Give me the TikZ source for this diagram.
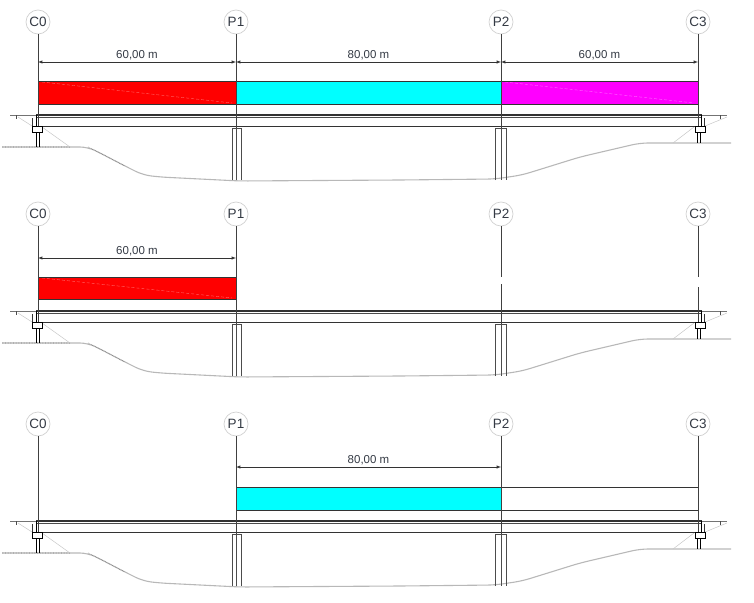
\documentclass[tikz,border=0pt]{standalone}
\usepackage{fontspec}
\setmainfont{Liberation Sans}
\usepackage{xcolor}
\usetikzlibrary{arrows,positioning}
\definecolor{labelgrey}{RGB}{52,58,68}
\definecolor{spanred}{RGB}{255,0,0}
\definecolor{spancyan}{RGB}{0,255,255}
\definecolor{spanmagenta}{RGB}{255,0,255}
\tikzset{
  axisnode/.style={circle,draw=black!18,line width=0.7pt,fill=white,minimum size=24pt,inner sep=0pt,text=labelgrey,font=\fontsize{13.5}{14}\selectfont},
  axisline/.style={black!75,line width=0.8pt},
  dimline/.style={black!80,line width=0.5pt,latex-latex,>=latex},
  dimlabel/.style={midway,above,text=labelgrey,inner sep=1.5pt,font=\fontsize{11.5}{12}\selectfont},
  spanbox/.style={draw=black!80,line width=0.8pt},
  spandash/.style={white,densely dashed,line width=0.4pt,opacity=0.4},
  deckline/.style={black!80,line width=0.9pt},
  ground/.style={black!28,line width=1.1pt,rounded corners=8pt},
  slope/.style={black!22,line width=0.5pt}
}
\begin{document}
\begin{tikzpicture}[x=1pt,y=-1pt]

\useasboundingbox (0,0) rectangle (754,602);

% bridge, repeated three times
\foreach \view/\dy in {a/0,b/196,c/406}{
\begin{scope}[yshift=-\dy pt]
\draw[ground] (2,147) -- (88,147) -- (100,153) -- (125,166) -- (143,175) -- (160,177) -- (240,181) -- (400,180) -- (495,179) -- (522,175) -- (580,157) -- (640,143) -- (731,143);
\draw[black!55,densely dotted,line width=0.6pt] (2,147) -- (70,147) (88,147) -- (100,153) -- (125,166);
\draw[slope] (42,127) -- (70,147);
\draw[slope] (694,127) -- (673,143);
\draw[slope] (18,117) -- (32,126);
\draw[slope] (727,117) -- (705,126);

% deck
\draw[deckline,line width=1.1pt] (36,115) -- (702,115);
\draw[black!70,line width=0.6pt] (36,117) -- (702,117);
\draw[deckline] (42,126) -- (695,126);
\draw[black!55,line width=0.8pt] (10,115) -- (36,115);
\draw[black!55,line width=0.8pt] (702,115) -- (727,115);
\draw[black!70,line width=0.5pt] (16,115) -- (16,119);
\draw[black!70,line width=0.5pt] (720,115) -- (720,119);

% piers
\foreach \xa/\xb/\xc in {232/236/241,495/501/506}{
\draw[black!70,line width=0.7pt] (\xa,180) -- (\xa,128) -- (\xc,128) -- (\xc,180);
\draw[black!70,line width=0.5pt] (\xb,128) -- (\xb,180);
}

% abutments
\draw[black!80,line width=0.6pt] (32,118) -- (32,126);
\draw[black,line width=0.9pt] (36,115) -- (36,126);
\draw[black,line width=0.9pt] (32,126) rectangle (42,132);
\draw[black,line width=1pt] (36,132) -- (36,147) (39,132) -- (39,147);
\draw[black!80,line width=0.6pt] (704,118) -- (704,126);
\draw[black,line width=0.9pt] (701,115) -- (701,126);
\draw[black,line width=0.9pt] (695,126) rectangle (705,132);
\draw[black,line width=1pt] (697,132) -- (697,143) (700,132) -- (700,143);
\end{scope}
}

% top view
\node[axisnode] (C0a) at (38,22) {C0};
\node[axisnode] (P1a) at (236,22) {P1};
\node[axisnode] (P2a) at (501,22) {P2};
\node[axisnode] (C3a) at (698,22) {C3};
\coordinate (C0aend) at (38,126);
\coordinate (P1aend) at (236,128);
\coordinate (P2aend) at (501,128);
\coordinate (C3aend) at (698,126);

\fill[spanred] (38,81) rectangle (236,104);
\fill[spancyan] (236,81) rectangle (501,104);
\fill[spanmagenta] (501,81) rectangle (698,104);
\draw[spandash] (42,82) -- (232,103);
\draw[spandash] (505,82) -- (694,103);
\draw[spanbox] (38,81) rectangle (698,104);

\foreach \from in {C0a,P1a,P2a,C3a}{
\draw[axisline] (\from) -- (\from end);
}

\coordinate (C0adim) at (38,62);
\coordinate (P1adim) at (236,62);
\coordinate (P2adim) at (501,62);
\coordinate (C3adim) at (698,62);
\draw[dimline] (C0adim) -- (P1adim) node[dimlabel] {60,00 m};
\draw[dimline] (P1adim) -- (P2adim) node[dimlabel] {80,00 m};
\draw[dimline] (P2adim) -- (C3adim) node[dimlabel] {60,00 m};

% middle view
\node[axisnode] (C0b) at (38,214) {C0};
\node[axisnode] (P1b) at (236,214) {P1};
\node[axisnode] (P2b) at (501,214) {P2};
\node[axisnode] (C3b) at (698,214) {C3};
\coordinate (C0bend) at (38,322);
\coordinate (P1bend) at (236,324);
\coordinate (P2bgap) at (501,277);
\coordinate (P2bnext) at (501,284);
\coordinate (P2bend) at (501,324);
\coordinate (C3bgap) at (698,277);
\coordinate (C3bnext) at (698,287);
\coordinate (C3bend) at (698,322);

\fill[spanred] (38,277) rectangle (236,299);
\draw[spandash] (42,278) -- (232,298);
\draw[spanbox] (38,277) rectangle (236,299);

\draw[axisline] (C0b) -- (C0bend);
\draw[axisline] (P1b) -- (P1bend);
\draw[axisline] (P2b) -- (P2bgap);
\draw[axisline] (P2bnext) -- (P2bend);
\draw[axisline] (C3b) -- (C3bgap);
\draw[axisline] (C3bnext) -- (C3bend);

\coordinate (C0bdim) at (38,258);
\coordinate (P1bdim) at (236,258);
\draw[dimline] (C0bdim) -- (P1bdim) node[dimlabel] {60,00 m};

% bottom view
\node[axisnode] (C0c) at (38,424) {C0};
\node[axisnode] (P1c) at (236,424) {P1};
\node[axisnode] (P2c) at (501,424) {P2};
\node[axisnode] (C3c) at (698,424) {C3};
\coordinate (C0cend) at (38,532);
\coordinate (P1cend) at (236,534);
\coordinate (P2cend) at (501,534);
\coordinate (C3cend) at (698,532);

\fill[spancyan] (236,487) rectangle (501,510);
\draw[spanbox] (236,487) rectangle (698,510);

\foreach \from in {C0c,P1c,P2c,C3c}{
\draw[axisline] (\from) -- (\from end);
}

\coordinate (P1cdim) at (236,467);
\coordinate (P2cdim) at (501,467);
\draw[dimline] (P1cdim) -- (P2cdim) node[dimlabel] {80,00 m};

\end{tikzpicture}
\end{document}
